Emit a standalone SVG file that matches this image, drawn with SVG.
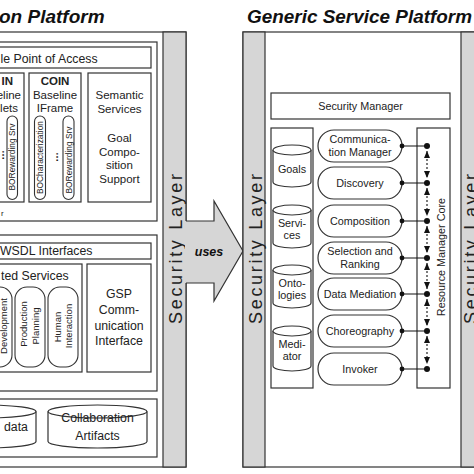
<svg xmlns="http://www.w3.org/2000/svg" width="474" height="474" viewBox="0 0 474 474">
<defs>
<style>
.box{fill:#fff;stroke:#333;stroke-width:1.2}
.bar{fill:#d6d6d6;stroke:#333;stroke-width:1.2}
.pill{fill:#fff;stroke:#333;stroke-width:1.1}
.t{font-family:"Liberation Sans",Arial,Helvetica,sans-serif;fill:#222;text-anchor:middle}
.s{text-anchor:start}
.e{text-anchor:end}
.title{font-family:"Liberation Sans",Arial,Helvetica,sans-serif;font-weight:bold;font-style:italic;fill:#111;font-size:19px}
.f12{font-size:12.3px}
.f115{font-size:11.5px}
.f11{font-size:10.8px}
.f95{font-size:9.5px}
.f85{font-size:8.4px}
.sec{font-size:18px}
.ln{stroke:#111;stroke-width:1.2;fill:none}
.dash{stroke:#111;stroke-width:1.1;stroke-dasharray:2 2;fill:none;marker-start:url(#ah);marker-end:url(#ah)}
.dot{fill:#111}
</style>
<marker id="ah" viewBox="0 0 7 6" refX="7" refY="3" markerWidth="7" markerHeight="6" markerUnits="userSpaceOnUse" orient="auto-start-reverse">
<path d="M0,0 L7,3 L0,6 z" fill="#111"/>
</marker>
</defs>

<!-- titles -->
<text class="title s" x="-1" y="22.5">on Platform</text>
<text class="title s" x="247" y="22.5" textLength="225" lengthAdjust="spacingAndGlyphs">Generic Service Platform</text>

<!-- LEFT PLATFORM -->
<g id="left-platform">
<rect class="box" x="-5" y="32" width="191" height="435"/>
<rect class="bar" x="163" y="32" width="23" height="435"/>
<text class="t sec" transform="rotate(-90 182 249)" x="182" y="249" textLength="150" lengthAdjust="spacing">Security Layer</text>
</g>

<g id="portal-box">
<rect class="box" x="-5" y="42" width="162" height="179"/>
<text class="t s" x="1" y="216" style="font-size:8px">r</text>
</g>

<g id="single-point-of-access">
<rect class="box" x="-5" y="47" width="156" height="21"/>
<text class="t s f12" x="0.5" y="62.5">le Point of Access</text>
</g>

<g id="coin-portlets">
<rect class="box" x="-5" y="73" width="29" height="129"/>
<text class="t e f115" x="13" y="85" font-weight="bold">IN</text>
<text class="t e f115" x="21" y="98.5">eline</text>
<text class="t e f115" x="18" y="112">lets</text>
<rect class="pill" x="7" y="116" width="10.5" height="83.5" rx="5.25"/>
<text class="t f85" transform="rotate(-90 15 157)" x="15" y="157">BORewarding Srv</text>
<text class="t" transform="rotate(-90 4 155)" x="4" y="155" style="font-size:10px;font-weight:bold">…</text>
</g>

<g id="coin-iframe">
<rect class="box" x="29" y="73" width="52" height="129"/>
<text class="t f115" x="55" y="85" font-weight="bold">COIN</text>
<text class="t f115" x="55" y="98.5">Baseline</text>
<text class="t f115" x="55" y="112">IFrame</text>
<rect class="pill" x="34.5" y="116" width="11" height="83.5" rx="5.5"/>
<text class="t f85" transform="rotate(-90 43.3 157.5)" x="43.3" y="157.5">BOCharacterization</text>
<rect class="pill" x="63" y="116" width="11" height="83.5" rx="5.5"/>
<text class="t f85" transform="rotate(-90 71.8 160)" x="71.8" y="160">BORewarding Srv</text>
<text class="t" transform="rotate(-90 58 157)" x="58" y="157" style="font-size:10px;font-weight:bold">…</text>
</g>

<g id="semantic-services">
<rect class="box" x="88" y="73" width="63" height="129"/>
<text class="t f115" x="119.5" y="99">Semantic</text>
<text class="t f115" x="119.5" y="113">Services</text>
<text class="t f115" x="119.5" y="142">Goal</text>
<text class="t f115" x="119.5" y="155.5">Compo-</text>
<text class="t f115" x="119.5" y="169">sition</text>
<text class="t f115" x="119.5" y="182.5">Support</text>
</g>

<g id="services-box">
<rect class="box" x="-5" y="235" width="162" height="156"/>
</g>

<g id="wsdl-interfaces">
<rect class="box" x="-5" y="243" width="156" height="16"/>
<text class="t s f12" x="0" y="255">WSDL Interfaces</text>
</g>

<g id="hosted-services">
<rect class="box" x="-5" y="264" width="87" height="108"/>
<text class="t s f12" x="1" y="280">ted Services</text>
<rect class="pill" x="-20" y="287" width="32" height="80" rx="12"/>
<text class="t f95" transform="rotate(-90 7 326)" x="7" y="326">Development</text>
<rect class="pill" x="15" y="287" width="30" height="80" rx="12"/>
<text class="t f95" transform="rotate(-90 27 324)" x="27" y="324">Production</text>
<text class="t f95" transform="rotate(-90 38.5 326)" x="38.5" y="326">Planning</text>
<rect class="pill" x="48" y="287" width="30" height="80" rx="12"/>
<text class="t f95" transform="rotate(-90 60.5 327)" x="60.5" y="327">Human</text>
<text class="t f95" transform="rotate(-90 71.5 326)" x="71.5" y="326">Interaction</text>
</g>

<g id="gsp-communication-interface">
<rect class="box" x="87" y="264" width="64" height="108"/>
<text class="t f12" x="119" y="298">GSP</text>
<text class="t f12" x="119" y="314">Comm-</text>
<text class="t f12" x="119" y="330">unication</text>
<text class="t f12" x="119" y="345">Interface</text>
</g>

<g id="data-box">
<rect class="box" x="-5" y="399" width="162" height="58"/>
</g>

<g id="data">
<path class="box" d="M-64,411.5 V441.5 A50,6.5 0 0 0 36,441.5 V411.5"/>
<ellipse class="box" cx="-14" cy="411.5" rx="50" ry="6.5"/>
<text class="t s f12" x="4" y="431">data</text>
</g>

<g id="collaboration-artifacts">
<path class="box" d="M48,411.5 V441.5 A49.5,6.5 0 0 0 147,441.5 V411.5"/>
<ellipse class="box" cx="97.5" cy="411.5" rx="49.5" ry="6.5" style="fill:none"/>
<text class="t f12" x="97.5" y="421.5">Collaboration</text>
<text class="t f12" x="97.5" y="440">Artifacts</text>
</g>

<!-- uses arrow -->
<g id="uses-arrow">
<polygon points="185,221 214,221 214,201 243,251 214,301 214,283 185,283" fill="#d6d6d6"/>
<polyline class="ln" points="186,221 214,221 214,201 243,251 214,301 214,283 186,283" style="stroke:#333"/>
<text class="t" x="209" y="255.5" style="font-size:12.5px;font-weight:bold;font-style:italic;fill:#111">uses</text>
</g>

<!-- RIGHT PLATFORM -->
<g id="generic-service-platform">
<rect class="box" x="243" y="32" width="240" height="435"/>
<rect class="bar" x="243" y="32" width="22" height="435"/>
<rect class="bar" x="461" y="32" width="22" height="435"/>
<text class="t sec" transform="rotate(-90 262 249)" x="262" y="249" textLength="150" lengthAdjust="spacing">Security Layer</text>
<text class="t sec" transform="rotate(-90 477 249)" x="477" y="249" textLength="150" lengthAdjust="spacing">Security Layer</text>
</g>

<g id="security-manager">
<rect class="box" x="271" y="93" width="179" height="26"/>
<text class="t f11" x="360.5" y="109.5">Security Manager</text>
</g>

<g id="repositories">
<rect class="box" x="271" y="128" width="42" height="260"/>
</g>

<g id="goals">
<path class="box" d="M273,150 V182 A19,5 0 0 0 311,182 V150"/>
<ellipse class="box" cx="292" cy="150" rx="19" ry="5"/>
<text class="t f11" x="292" y="172.5">Goals</text>
</g>
<g id="services">
<path class="box" d="M273,210 V243 A19,5 0 0 0 311,243 V210"/>
<ellipse class="box" cx="292" cy="210" rx="19" ry="5"/>
<text class="t f11" x="292" y="226.5">Servi-</text>
<text class="t f11" x="292" y="239">ces</text>
</g>
<g id="ontologies">
<path class="box" d="M273,270 V303 A19,5 0 0 0 311,303 V270"/>
<ellipse class="box" cx="292" cy="270" rx="19" ry="5"/>
<text class="t f11" x="292" y="286.5">Onto-</text>
<text class="t f11" x="292" y="299">logies</text>
</g>
<g id="mediator">
<path class="box" d="M273,331 V366 A19,5 0 0 0 311,366 V331"/>
<ellipse class="box" cx="292" cy="331" rx="19" ry="5"/>
<text class="t f11" x="292" y="347.5">Medi-</text>
<text class="t f11" x="292" y="360">ator</text>
</g>

<g id="resource-manager-core">
<rect class="box" x="417" y="128" width="33" height="260"/>
<text class="t f11" transform="rotate(-90 444.5 257)" x="444.5" y="257">Resource Manager Core</text>
</g>

<g id="communication-manager">
<rect class="box" x="318" y="130" width="84" height="32" rx="16"/>
<text class="t f11" x="360" y="143">Communica-</text>
<text class="t f11" x="360" y="155.5">tion Manager</text>
</g>
<g id="discovery">
<rect class="box" x="318" y="167" width="84" height="32" rx="16"/>
<text class="t f11" x="360" y="187">Discovery</text>
</g>
<g id="composition">
<rect class="box" x="318" y="205" width="84" height="32" rx="16"/>
<text class="t f11" x="360" y="225">Composition</text>
</g>
<g id="selection-and-ranking">
<rect class="box" x="318" y="242" width="84" height="32" rx="16"/>
<text class="t f11" x="360" y="255">Selection and</text>
<text class="t f11" x="360" y="267.5">Ranking</text>
</g>
<g id="data-mediation">
<rect class="box" x="318" y="278" width="84" height="32" rx="16"/>
<text class="t f11" x="360" y="298">Data Mediation</text>
</g>
<g id="choreography">
<rect class="box" x="318" y="315" width="84" height="32" rx="16"/>
<text class="t f11" x="360" y="335">Choreography</text>
</g>
<g id="invoker">
<rect class="box" x="318" y="353" width="84" height="32" rx="16"/>
<text class="t f11" x="360" y="373">Invoker</text>
</g>

<g id="connectors">
<path class="ln" d="M402,146 H427 M402,183 H427 M402,221 H427 M402,258 H427 M402,294 H427 M402,331 H427 M402,369 H427"/>
<line class="dash" x1="427" y1="151" x2="427" y2="178"/>
<line class="dash" x1="427" y1="188" x2="427" y2="216"/>
<line class="dash" x1="427" y1="226" x2="427" y2="253"/>
<line class="dash" x1="427" y1="263" x2="427" y2="289"/>
<line class="dash" x1="427" y1="299" x2="427" y2="326"/>
<line class="dash" x1="427" y1="336" x2="427" y2="364"/>
<g class="dot">
<circle cx="402" cy="146" r="2.4"/><circle cx="427" cy="146" r="3"/>
<circle cx="402" cy="183" r="2.4"/><circle cx="427" cy="183" r="3"/>
<circle cx="402" cy="221" r="2.4"/><circle cx="427" cy="221" r="3"/>
<circle cx="402" cy="258" r="2.4"/><circle cx="427" cy="258" r="3"/>
<circle cx="402" cy="294" r="2.4"/><circle cx="427" cy="294" r="3"/>
<circle cx="402" cy="331" r="2.4"/><circle cx="427" cy="331" r="3"/>
<circle cx="402" cy="369" r="2.4"/><circle cx="427" cy="369" r="3"/>
</g>
</g>
</svg>
